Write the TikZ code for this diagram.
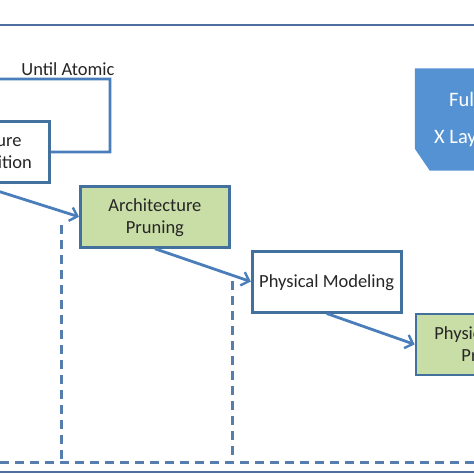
\documentclass[tikz,border=0pt]{standalone}
\usepackage{fontspec}
\setmainfont{Carlito}
\usetikzlibrary{positioning, calc, backgrounds, arrows.meta}
\definecolor{boxline}{HTML}{41719C}
\definecolor{flowline}{HTML}{4A7EBB}
\definecolor{prunefill}{HTML}{C9DDA6}
\definecolor{tagfill}{HTML}{5592D3}
\definecolor{frameline}{HTML}{4F6FA0}
\tikzset{
    phase/.style={rectangle, draw=boxline, fill=white, line width=2.8pt, minimum width=149pt, minimum height=61pt, align=center, text=black!85, font=\fontsize{18.5}{22}\selectfont, text depth=1pt},
    hphase/.style={phase, fill=prunefill},
    tag/.style={rectangle, minimum width=98pt, minimum height=102pt, align=center, text=white, font=\fontsize{20.5}{37}\selectfont},
    flow/.style={draw=flowline, line width=2.8pt, -{Straight Barb[length=7pt,width=14pt,line width=2.4pt]}},
    fb/.style={draw=flowline!80!gray, line width=3pt, dash pattern=on 9pt off 6pt},
}

\begin{document}
\begin{tikzpicture}[x=1pt, y=-1pt]
                        \useasboundingbox (0,0) rectangle (474,474);
                        \clip (0,0) rectangle (474,474);
                        \draw[frameline, line width=2.6pt] (-50,25) rectangle (530,472);
                        \node [phase] (decomp) at (-24.9,152) {Architecture\\Decomposition};
                        \node [hphase] (archpr) [below right=1pt and 28pt of decomp] {Architecture\\Pruning};
                        \node [phase] (physmod) [below right=1pt and 20pt of archpr] {Physical Modeling};
                        \node [hphase] (physpr) [below right=-1pt and 12pt of physmod] {Physical Model\\Pruning};
                        \node [tag] (xlayer) at (464,119.5) {Full\\X Layer};
                        \begin{scope}[on background layer]
                            \fill[tagfill] (xlayer.north west) -- (xlayer.north east) -- (xlayer.south east)
                                -- ($(xlayer.south west)+(15,0)$) -- ($(xlayer.south west)+(0,-22)$) -- cycle;
                        \end{scope}
                        \node [font=\fontsize{18.5}{22}\selectfont, text=black!85] (until) at (68,69) {Until Atomic};
                        \coordinate (fbarch) at (61,225);
                        \coordinate (fbphys) at (232,281);
                        \coordinate (fbleft) at (-60,462);
                        \coordinate (fbright) at (600,462);
                        \draw[flow] (decomp.east) -- (110,152) |- (-25,79) -- (decomp.north);
                        \draw[flow] (decomp.south) -- (archpr.west);
                        \draw[flow] (archpr.south) -- (physmod.west);
                        \draw[flow] (physmod.south) -- (physpr.west);
                        \draw[fb] (fbarch) -- (fbarch |- fbleft);
                        \draw[fb] (fbphys) -- (fbphys |- fbleft);
                        \draw[fb] (fbleft) -- (fbright);
                    \end{tikzpicture}
\end{document}
